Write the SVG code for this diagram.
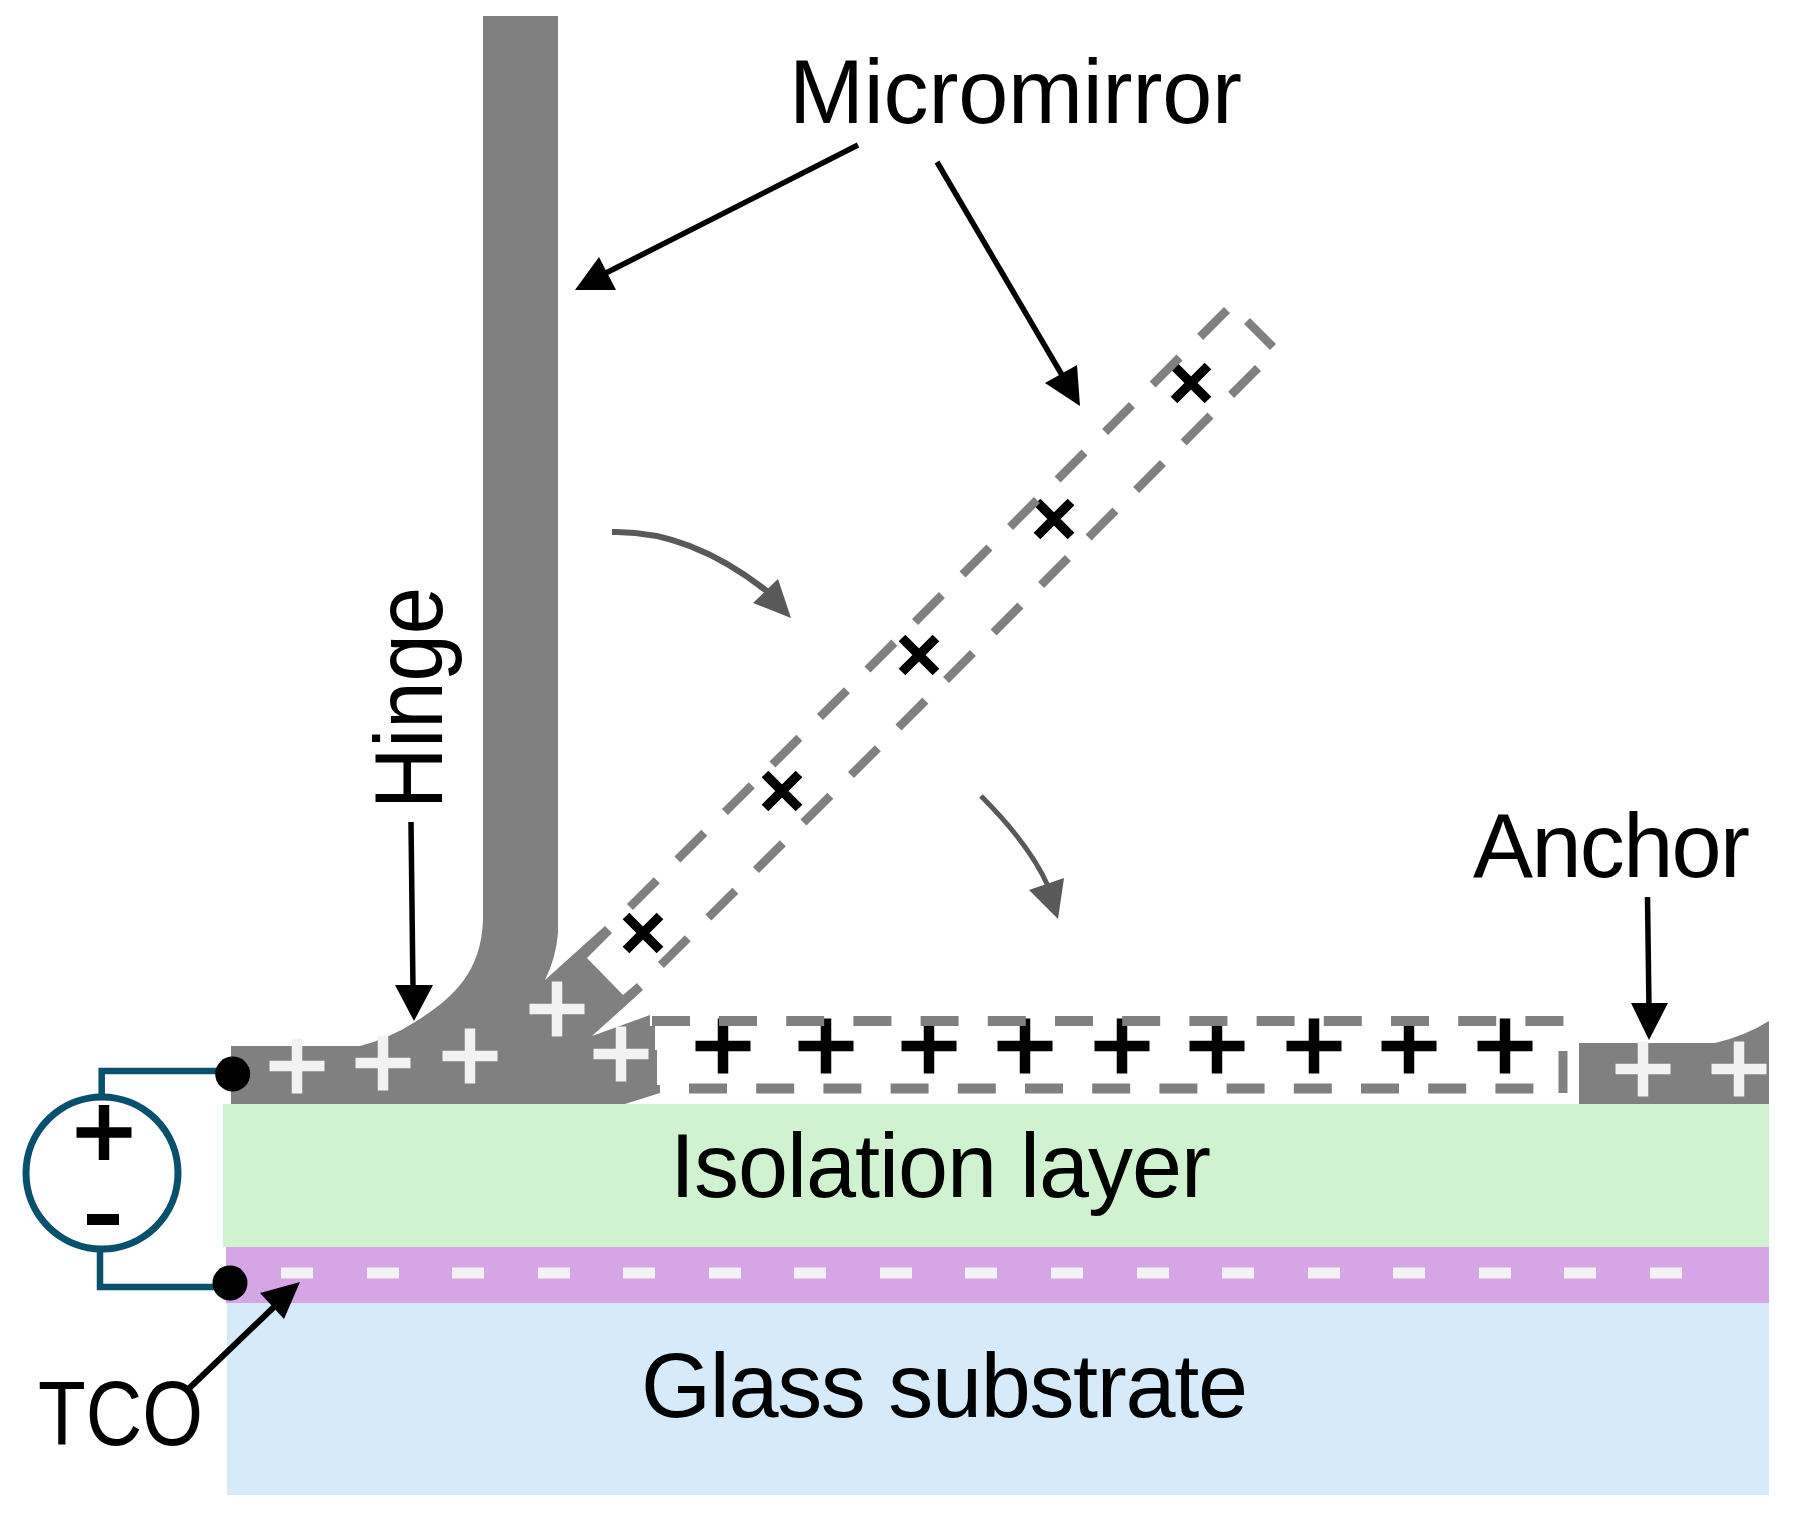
<svg xmlns="http://www.w3.org/2000/svg" width="1798" height="1528" viewBox="0 0 1798 1528">
<style>
text{font-family:"Liberation Sans",Arial,sans-serif;font-size:90px;fill:#000}
.grey{fill:#808080}
.dash{fill:none;stroke:#808080;stroke-width:8.5;stroke-dasharray:38 29.2}
.flat{stroke-width:10}
.solid{fill:none;stroke:#808080;stroke-width:8.5}
.bp{stroke:#000;stroke-width:10.5;fill:none}
.wp{stroke:#f2f2f2;stroke-width:10.5;fill:none}
.wire{fill:none;stroke:#08506c;stroke-width:6.5}
.arr{fill:none;stroke:#000;stroke-width:5.5}
.curve{fill:none;stroke:#595959;stroke-width:6}
.ah{fill:#000}.gh{fill:#595959}
</style>
<defs>
<path id="p" d="M-27.5,0H27.5M0,-27.5V27.5"/>
<path id="x" d="M-17,-17L17,17M-17,17L17,-17"/>
<rect id="m" x="-16" y="-5.5" width="32" height="11" fill="#f2f2f2"/>
</defs>
<g id="glass-substrate"><rect x="227" y="1303" width="1542" height="192" fill="#d7eaf9"/><text x="641" y="1417" textLength="607" lengthAdjust="spacing">Glass substrate</text></g>
<g id="isolation-layer"><rect x="223" y="1104" width="1546" height="143" fill="#d1f2d0"/><text x="670" y="1197" textLength="541" lengthAdjust="spacing">Isolation layer</text></g>
<g id="tco"><rect x="226" y="1247" width="1543" height="56" fill="#d6a5e6"/>
<g id="tco-charges"><use href="#m" x="297" y="1273"/><use href="#m" x="383" y="1273"/><use href="#m" x="468" y="1273"/><use href="#m" x="554" y="1273"/><use href="#m" x="639" y="1273"/><use href="#m" x="725" y="1273"/><use href="#m" x="810" y="1273"/><use href="#m" x="896" y="1273"/><use href="#m" x="981" y="1273"/><use href="#m" x="1067" y="1273"/><use href="#m" x="1153" y="1273"/><use href="#m" x="1238" y="1273"/><use href="#m" x="1324" y="1273"/><use href="#m" x="1409" y="1273"/><use href="#m" x="1495" y="1273"/><use href="#m" x="1580" y="1273"/><use href="#m" x="1666" y="1273"/></g>
<text x="38" y="1445" textLength="165" lengthAdjust="spacingAndGlyphs">TCO</text></g>
<g id="micromirror-hinge">
<path class="grey" d="M483,16H558V933Q556,958 545,980L605,926L612,933L587,958L623,995L637,983L643,990L592,1036L650,1015V1026H655V1050H657V1085H660V1093L625,1104H231V1046H360Q390,1038 415,1022C450,1000 481,975 483,920Z"/>
<g class="wp"><use href="#p" x="297" y="1066"/><use href="#p" x="383" y="1063"/><use href="#p" x="470" y="1056"/><use href="#p" x="557" y="1009"/><use href="#p" x="621" y="1054"/></g>
<text transform="translate(442,809) rotate(-90)" textLength="222" lengthAdjust="spacingAndGlyphs" style="font-size:96px">Hinge</text></g>
<g id="micromirror-tilted">
<g class="bp" style="stroke-width:9.5"><use href="#x" x="1191" y="383"/><use href="#x" x="1054" y="519"/><use href="#x" x="919" y="655"/><use href="#x" x="782" y="791"/><use href="#x" x="643" y="933"/></g>
<path class="dash" d="M1227,310L625,912"/><path class="dash" d="M1258,368L650,976"/><path class="solid" d="M1247,321L1273,347"/></g>
<g id="micromirror-flat">
<g class="bp"><use href="#p" x="723" y="1046"/><use href="#p" x="826" y="1046"/><use href="#p" x="929" y="1046"/><use href="#p" x="1025" y="1046"/><use href="#p" x="1122" y="1046"/><use href="#p" x="1217" y="1046"/><use href="#p" x="1314" y="1046"/><use href="#p" x="1409" y="1046"/><use href="#p" x="1505" y="1046"/></g>
<path class="dash flat" d="M652,1021H690M719,1021H1567"/><path class="dash flat" d="M689,1088.5H1536"/><path d="M1563,1051V1093" fill="none" stroke="#808080" stroke-width="9"/></g>
<g id="anchor"><path class="grey" d="M1579,1043H1715Q1745,1036 1769,1021V1104H1579Z"/>
<g class="wp"><use href="#p" x="1643" y="1069"/><use href="#p" x="1739" y="1069"/></g>
<text x="1473" y="877" textLength="277" lengthAdjust="spacing">Anchor</text></g>
<g id="micromirror-label"><text x="789" y="123" textLength="453" lengthAdjust="spacing">Micromirror</text></g>
<g id="voltage-source">
<circle cx="102" cy="1173" r="76" fill="#fff" stroke="#08506c" stroke-width="7"/>
<path class="bp" d="M104,1105V1160M76.5,1132.5H131.5"/>
<rect x="87" y="1214" width="32" height="11" fill="#000"/></g>
<g id="connectors">
<path class="wire" d="M101.7,1097V1071H232"/><path class="wire" d="M100,1249V1287H230"/>
<circle cx="232.7" cy="1074" r="17.5" fill="#000"/><circle cx="230" cy="1283" r="17.5" fill="#000"/>
<path class="arr" d="M858,145L602,275"/><polygon class="ah" points="575,290 599,257 616,290"/>
<path class="arr" d="M937,162L1062,375"/><polygon class="ah" points="1080,406 1045,383 1077,365"/>
<path class="arr" d="M411,822L413,990"/><polygon class="ah" points="414,1021 395,985 433,985"/>
<path class="arr" d="M1647.5,897L1649,1010"/><polygon class="ah" points="1649,1040 1631,1003 1668,1003"/>
<path class="arr" d="M189.5,1388L276,1305" style="stroke-width:6"/><polygon class="ah" points="300,1282 260,1293 284,1319"/>
<path class="curve" d="M612,532Q690,530 768,592"/><polygon class="gh" points="791,618 753,603 778,579"/>
<path class="curve" d="M981,796Q1030,845 1048,886" style="stroke-width:5"/><polygon class="gh" points="1058,919 1029,890 1064,878"/>
</g>
</svg>
